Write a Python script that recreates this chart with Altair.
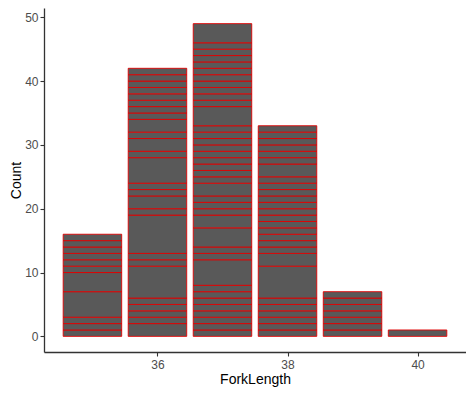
import altair as alt
import pandas as pd

fork_lengths = [35, 36, 37, 38, 39, 40]
# stacked segment boundaries (cumulative counts) per bar
bounds_35 = [0, 1, 2, 3, 7, 10, 11, 12, 13, 14, 15, 16]
bounds_36 = [0, 2, 3, 4, 5, 6, 11, 12, 13, 19, 20, 22, 23, 24, 28, 29, 31, 32, 34, 35, 36, 37, 38, 39, 40, 41, 42]
bounds_37 = [0, 1, 2, 3, 4, 5, 6, 7, 8, 12, 13, 14, 17, 19, 20, 21, 22, 24, 25, 26, 27, 28, 29, 30, 31, 32, 33, 36, 37, 38, 39, 40, 41, 42, 43, 44, 45, 46, 49]
bounds_38 = [0, 1, 2, 3, 4, 5, 6, 11, 13, 14, 15, 16, 17, 18, 19, 20, 21, 22, 23, 24, 25, 27, 28, 29, 30, 31, 32, 33]
bounds_39 = [0, 1, 2, 3, 4, 5, 6, 7]
bounds_40 = [0, 1]
all_bounds = [bounds_35, bounds_36, bounds_37, bounds_38, bounds_39, bounds_40]
x_ticks = [36, 38, 40]
y_ticks = [0, 10, 20, 30, 40, 50]

rows = []
for fl, b in zip(fork_lengths, all_bounds):
    for lo, hi in zip(b[:-1], b[1:]):
        rows.append({"FL": fl, "x0": fl - 0.45, "x1": fl + 0.45, "y0": lo, "y1": hi})
df = pd.DataFrame(rows)

chart = alt.Chart(df).mark_rect(fill="#595959", stroke="#E00000", strokeWidth=0.9).encode(
    x=alt.X("x0:Q", scale=alt.Scale(domain=[34.255, 40.745], nice=False, zero=False),
            axis=alt.Axis(values=x_ticks, title="ForkLength", grid=False, format="d")),
    x2="x1:Q",
    y=alt.Y("y0:Q", scale=alt.Scale(domain=[-2.45, 51.45], nice=False, zero=False),
            axis=alt.Axis(values=y_ticks, title="Count", grid=False)),
    y2="y1:Q",
).properties(
    width=422, height=344,
    autosize=alt.AutoSizeParams(type="none"),
    padding={"left": 36, "top": 0, "right": 0, "bottom": 35},
).configure_view(stroke=None).configure_axis(
    domainColor="#333333", domainWidth=1.3, tickColor="#333333", tickWidth=1.1, tickSize=4,
    labelColor="#4D4D4D", labelFontSize=12, labelFont="Liberation Sans",
    titleFont="Liberation Sans", titleFontSize=14, titleColor="#000000", titleFontWeight="normal",
).configure_axisX(titlePadding=2, labelPadding=3).configure_axisY(titlePadding=1, labelPadding=2)

chart.save("out.html", embed_options={"renderer": "svg", "actions": False})
